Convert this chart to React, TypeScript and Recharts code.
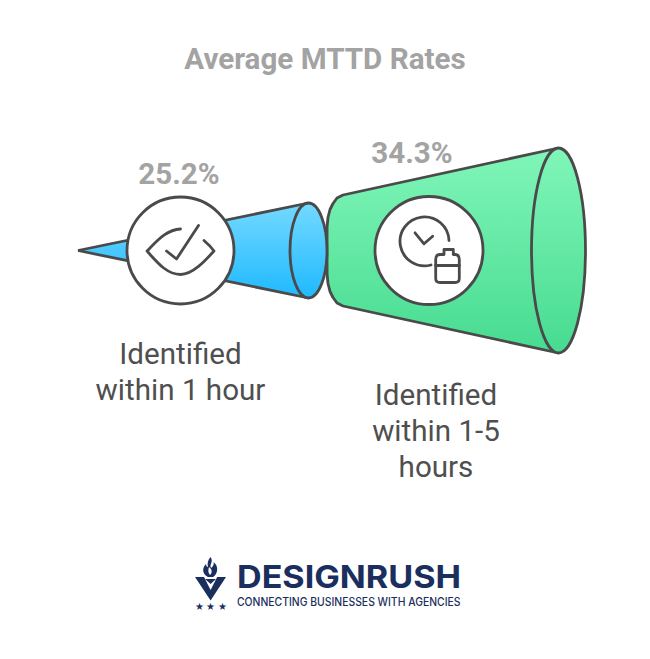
import { Area, ComposedChart, Scatter, XAxis, YAxis } from 'recharts';

// x is the distance from the tip of the first cone, y the spread around the centre line
const coneOneReach = [0, 230.5];
const coneOneSpread = [0, 47.5];
const coneTwoReach = [249, 249.1, 250, 252, 255, 259, 265, 480.5];
const coneTwoSpread = [0, 24, 33, 41, 47, 52.5, 55.5, 102.5];

const categories = ['Identified within 1 hour', 'Identified within 1-5 hours'];
const rates = ['25.2%', '34.3%'];
const title = 'Average MTTD Rates';

const coneOne = coneOneReach.map((reach, i) => ({
  reach,
  range: [-coneOneSpread[i], coneOneSpread[i]],
}));
const coneTwo = coneTwoReach.map((reach, i) => ({
  reach,
  range: [-coneTwoSpread[i], coneTwoSpread[i]],
}));

const lineColor = '#4a4a4a';
const greyText = '#a3a3a3';
const navy = '#1b2f5e';

function Rim({ cx, cy, rx, ry, fill }: any) {
  return <ellipse cx={cx} cy={cy} rx={rx} ry={ry} fill={fill} stroke={lineColor} strokeWidth={2.8} />;
}

function EyeBadge({ cx, cy }: any) {
  return (
    <g transform={`translate(${cx},${cy})`} fill="none" stroke={lineColor} strokeWidth={2.8} strokeLinecap="round" strokeLinejoin="round">
      <circle r={53.5} fill="#fff" />
      <path d="M0,-21.5 C-14,-21 -24,-9 -33.5,0.5 C-24,11 -14,24 0,24 C12,24 24,11 33.5,0.5 C31,-3 27,-7 23.5,-10" />
      <path d="M-14,0.5 L-4,8.5 L18,-25" />
    </g>
  );
}

function ClockBadge({ cx, cy }: any) {
  return (
    <g transform={`translate(${cx},${cy})`} fill="none" stroke={lineColor} strokeWidth={2.8} strokeLinecap="round" strokeLinejoin="round">
      <circle r={54} fill="#fff" />
      <path d="M20,-10 A24.5,24.5 0 1 0 2,14.5" />
      <path d="M-14,-17.7 L-5,-6.7 L3.7,-14.3" />
      <path d="M6.7,9 Q6.7,4 11,4 H15 V-1 H24.3 V4 H26 Q30.3,4 30.3,9 V28 Q30.3,32 26,32 H11 Q6.7,32 6.7,28 Z" fill="#fff" />
      <path d="M6.7,15 H30.3" />
    </g>
  );
}

function Logo() {
  return (
    <g>
      <path
        d="M210.5,557 C214,562 209,564 211,568 C214,566 214,563 213.5,562 C219,566 218,574 213,577 L208,577 C202,574 202,568 206,564 C206,566 207,567 208,567 C207,563 208,560 210.5,557 Z"
        fill={navy}
      />
      <path d="M209,567 C208,570 208,573 210,575 C212,573 212,571 211,569 Z" fill="#fff" />
      <path d="M195,577 L204,577 L210.6,590 L217.2,577 L226,577 L210.6,600.5 Z" fill={navy} />
      <path d="M205,579 L216,579 L210.6,584 Z" fill={navy} />
      <text x={199.5} y={610} textAnchor="middle" fontSize={10} fill={navy}>★</text>
      <text x={210.6} y={610} textAnchor="middle" fontSize={10} fill={navy}>★</text>
      <text x={222} y={610} textAnchor="middle" fontSize={10} fill={navy}>★</text>
      <text x={237} y={588} fontFamily="Inter" fontWeight={700} fontSize={31.5} fill={navy} textLength={224} lengthAdjust="spacingAndGlyphs">
        DESIGNRUSH
      </text>
      <text x={237} y={606} fontFamily="Inter" fontWeight={500} fontSize={11.2} fill={navy} textLength={223.5} lengthAdjust="spacingAndGlyphs">
        CONNECTING BUSINESSES WITH AGENCIES
      </text>
    </g>
  );
}

export default function App() {
  const [oneA, oneB] = [categories[0].slice(0, 10), categories[0].slice(11)];
  const [twoA, twoB, twoC] = ['Identified', 'within 1-5', 'hours'];
  const labelProps = { fontFamily: 'Roboto', fontSize: 29.6, fill: '#4f4f4f', textAnchor: 'middle' as const };
  const rateProps = { fontFamily: 'Roboto', fontWeight: 700, fontSize: 29.6, fill: greyText, textAnchor: 'middle' as const };

  return (
    <div style={{ position: 'absolute', left: 0, top: 0, width: 650, height: 659, background: '#fff' }}>
      <ComposedChart width={650} height={659} margin={{ top: 0, right: 0, bottom: 0, left: 0 }}>
        <defs>
          <linearGradient id="blueFill" x1="0" y1="0" x2="0" y2="1">
            <stop offset="0%" stopColor="#74d9ff" />
            <stop offset="100%" stopColor="#1fb9ff" />
          </linearGradient>
          <linearGradient id="greenFill" x1="0" y1="0" x2="0" y2="1">
            <stop offset="0%" stopColor="#80f6b9" />
            <stop offset="100%" stopColor="#47db90" />
          </linearGradient>
        </defs>
        <XAxis type="number" dataKey="reach" domain={[-78, 572]} hide />
        <YAxis type="number" domain={[-408.5, 250.5]} hide />
        <Area
          data={coneOne}
          dataKey="range"
          type="linear"
          fill="url(#blueFill)"
          fillOpacity={1}
          stroke={lineColor}
          strokeWidth={2.8}
          strokeLinejoin="round"
          dot={false}
          activeDot={false}
          isAnimationActive={false}
        />
        <Area
          data={coneTwo}
          dataKey="range"
          type="linear"
          fill="url(#greenFill)"
          fillOpacity={1}
          stroke={lineColor}
          strokeWidth={2.8}
          strokeLinejoin="round"
          dot={false}
          activeDot={false}
          isAnimationActive={false}
        />
        <Scatter
          data={[{ reach: coneOneReach[1], spread: 0 }]}
          dataKey="spread"
          shape={(p: any) => <Rim cx={p.cx} cy={p.cy} rx={18.5} ry={coneOneSpread[1]} fill="url(#blueFill)" />}
          isAnimationActive={false}
        />
        <Scatter
          data={[{ reach: coneTwoReach[7], spread: 0 }]}
          dataKey="spread"
          shape={(p: any) => <Rim cx={p.cx} cy={p.cy} rx={27} ry={coneTwoSpread[7]} fill="url(#greenFill)" />}
          isAnimationActive={false}
        />
        <Scatter
          data={[{ reach: 102.5, spread: 0 }]}
          dataKey="spread"
          shape={(p: any) => <EyeBadge cx={p.cx} cy={p.cy} />}
          isAnimationActive={false}
        />
        <Scatter
          data={[{ reach: 351, spread: 0 }]}
          dataKey="spread"
          shape={(p: any) => <ClockBadge cx={p.cx} cy={p.cy} />}
          isAnimationActive={false}
        />
        <text x={325} y={69} fontFamily="Roboto" fontWeight={700} fontSize={29.6} fill={greyText} textAnchor="middle">
          {title}
        </text>
        <text x={179} y={184} {...rateProps}>{rates[0]}</text>
        <text x={412} y={163} {...rateProps}>{rates[1]}</text>
        <text x={180.5} y={364} {...labelProps}>{oneA}</text>
        <text x={180.5} y={400} {...labelProps}>{oneB}</text>
        <text x={436} y={405} {...labelProps}>{twoA}</text>
        <text x={436} y={441} {...labelProps}>{twoB}</text>
        <text x={436} y={477} {...labelProps}>{twoC}</text>
        <Logo />
      </ComposedChart>
    </div>
  );
}
